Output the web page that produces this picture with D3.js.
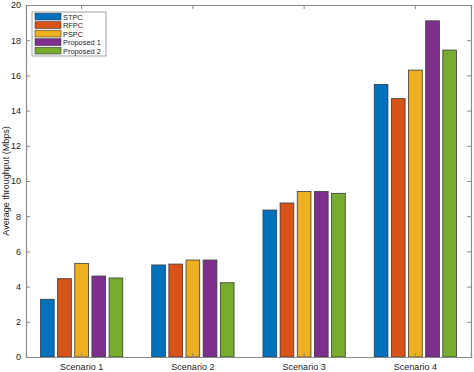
<!DOCTYPE html>
<html>
<head>
<meta charset="utf-8">
<style>
body { margin: 0; background: #fff; }
text { font-family: "Liberation Sans", Arial, sans-serif; }
</style>
</head>
<body>
<svg width="474" height="372"></svg>
<script src="https://d3js.org/d3.v7.min.js"></script>
<script>

var scenarios = ['Scenario 1', 'Scenario 2', 'Scenario 3', 'Scenario 4']
var schemes = ['STPC', 'RFPC', 'PSPC', 'Proposed 1', 'Proposed 2']
var colors = ['#0072bd', '#d95319', '#edb120', '#7e2f8e', '#77ac30']

// one array per scheme, values per scenario
var stpc = [3.28, 5.23, 8.35, 15.49]
var rfpc = [4.45, 5.28, 8.75, 14.68]
var pspc = [5.32, 5.51, 9.4, 16.3]
var prop1 = [4.6, 5.51, 9.4, 19.1]
var prop2 = [4.49, 4.22, 9.3, 17.44]
var yTicks = [0, 2, 4, 6, 8, 10, 12, 14, 16, 18, 20]

var series = [stpc, rfpc, pspc, prop1, prop2]

var margin = { left: 26, right: 3, top: 5, bottom: 15 }
var width = 474, height = 372

var svg = d3.select('svg')

var x = d3.scaleBand()
  .domain(scenarios)
  .range([margin.left, width - margin.right])

var xInner = d3.scaleBand()
  .domain(schemes)
  .range([0, x.bandwidth() * 0.74])
  .paddingInner(0.2)

var y = d3.scaleLinear()
  .domain([0, 20])
  .range([height - margin.bottom, margin.top])

var axisColor = '#8a8a8a'

// bars
var groups = svg.append('g').selectAll('g')
  .data(scenarios)
  .join('g')
  .attr('transform', function (d) {
    return 'translate(' + (x(d) + x.bandwidth() * 0.13) + ',0)'
  })

groups.selectAll('rect')
  .data(function (d, i) {
    return schemes.map(function (s, j) { return { s: s, v: series[j][i], c: colors[j] } })
  })
  .join('rect')
  .attr('x', function (d) { return xInner(d.s) })
  .attr('width', xInner.bandwidth())
  .attr('y', function (d) { return y(d.v) })
  .attr('height', function (d) { return y(0) - y(d.v) })
  .attr('fill', function (d) { return d.c })
  .attr('stroke', '#3a3a3a')
  .attr('stroke-width', 0.8)

// axes
svg.append('g')
  .attr('transform', 'translate(' + margin.left + ',0)')
  .call(d3.axisLeft(y).tickValues(yTicks).tickSize(-4).tickPadding(5))
svg.append('g')
  .attr('transform', 'translate(' + (width - margin.right) + ',0)')
  .call(d3.axisRight(y).tickValues(yTicks).tickSize(-4).tickFormat(''))
svg.append('g')
  .attr('transform', 'translate(0,' + y(0) + ')')
  .call(d3.axisBottom(x).tickSize(-4).tickPadding(7))
svg.append('g')
  .attr('transform', 'translate(0,' + y(20) + ')')
  .call(d3.axisTop(x).tickSize(-4).tickFormat(''))

svg.selectAll('.domain').attr('stroke', axisColor).attr('stroke-width', 1.2)
svg.selectAll('.tick line').attr('stroke', axisColor)
svg.selectAll('.tick text').attr('font-size', 9).attr('fill', '#222')
  .attr('font-family', '"Liberation Sans", Arial, sans-serif')

svg.append('text')
  .attr('transform', 'translate(9,' + y(10) + ') rotate(-90)')
  .attr('text-anchor', 'middle')
  .attr('font-size', 9)
  .attr('fill', '#222')
  .text('Average throughput (Mbps)')

// legend
var legend = svg.append('g').attr('transform', 'translate(32,12)')
legend.append('rect')
  .attr('width', 74).attr('height', 44)
  .attr('fill', '#fff').attr('stroke', axisColor).attr('stroke-width', 0.8)
var items = legend.selectAll('g.item')
  .data(schemes)
  .join('g')
  .attr('class', 'item')
  .attr('transform', function (d, i) { return 'translate(3,' + (1.2 + i * 8.5) + ')' })
items.append('rect')
  .attr('width', 26).attr('height', 6.8)
  .attr('fill', function (d, i) { return colors[i] })
  .attr('stroke', '#3a3a3a').attr('stroke-width', 0.6)
items.append('text')
  .attr('x', 28).attr('y', 6.4)
  .attr('font-size', 7.4)
  .attr('fill', '#222')
  .text(function (d) { return d })

</script>
</body>
</html>
